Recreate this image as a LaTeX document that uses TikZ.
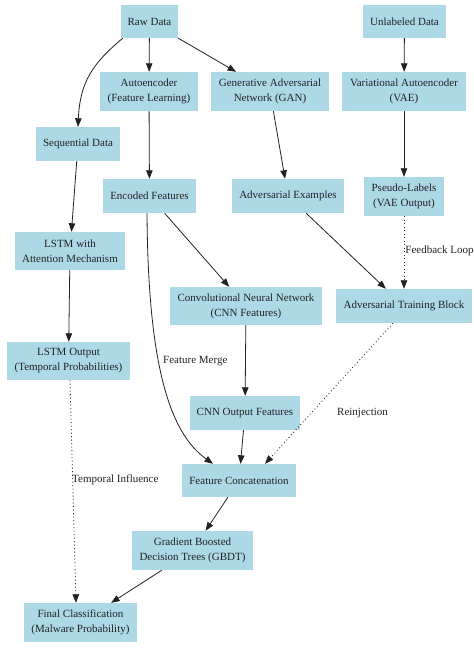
\documentclass[tikz,border=0pt]{standalone}
\usepackage{fontspec}
\setmainfont{Liberation Serif}
\usetikzlibrary{arrows.meta,calc}
\definecolor{boxblue}{HTML}{ADD8E6}
\definecolor{inkc}{HTML}{222222}
\begin{document}
\begin{tikzpicture}[x=1pt,y=1pt,
  box/.style={fill=boxblue,draw=none,inner sep=0pt,align=center,text=inkc,
    font=\fontsize{11}{15}\selectfont},
  conn/.style={draw=inkc,line width=0.8pt,-{Triangle[length=8.5pt,width=6.5pt]}},
  dotconn/.style={conn,dash pattern=on 0.9pt off 2.6pt},
  elabel/.style={text=inkc,font=\fontsize{11}{13}\selectfont,inner sep=0pt,anchor=west}]
\useasboundingbox (0,0) rectangle (474,-667);
\fill[white] (0,0) rectangle (474,-667);
% nodes
\node[box,minimum width=57pt,minimum height=33pt] (raw) at (149.5,-21.5) {Raw Data};
\node[box,minimum width=83pt,minimum height=33pt] (unl) at (404.5,-21.5) {Unlabeled Data};
\node[box,minimum width=98pt,minimum height=39pt] (ae) at (149,-91.5) {Autoencoder\\(Feature Learning)};
\node[box,minimum width=118pt,minimum height=39pt] (gan) at (270,-91.5) {Generative Adversarial\\Network (GAN)};
\node[box,minimum width=124pt,minimum height=39pt] (vae) at (404,-91.5) {Variational Autoencoder\\(VAE)};
\node[box,minimum width=84pt,minimum height=34pt] (seq) at (78,-144) {Sequential Data};
\node[box,minimum width=93pt,minimum height=34pt] (enc) at (149.5,-196) {Encoded Features};
\node[box,minimum width=112pt,minimum height=34pt] (adv) at (288,-196) {Adversarial Examples};
\node[box,minimum width=80pt,minimum height=39pt] (pseudo) at (404,-196.5) {Pseudo-Labels\\(VAE Output)};
\node[box,minimum width=110pt,minimum height=38pt] (lstm) at (70,-251) {LSTM with\\Attention Mechanism};
\node[box,minimum width=152pt,minimum height=38pt] (cnn) at (246,-306) {Convolutional Neural Network\\(CNN Features)};
\node[box,minimum width=136pt,minimum height=34pt] (atb) at (404,-306) {Adversarial Training Block};
\node[box,minimum width=123pt,minimum height=38pt] (lout) at (68.5,-361) {LSTM Output\\(Temporal Probabilities)};
\node[box,minimum width=110pt,minimum height=34pt] (cnno) at (245,-413) {CNN Output Features};
\node[box,minimum width=114pt,minimum height=33pt] (fc) at (239,-480.5) {Feature Concatenation};
\node[box,minimum width=121pt,minimum height=39pt] (gbdt) at (192.5,-550.5) {Gradient Boosted\\Decision Trees (GBDT)};
\node[box,minimum width=113pt,minimum height=39pt] (final) at (80.5,-622.5) {Final Classification\\(Malware Probability)};
% connectors
\draw[conn] ($(raw.south west)+(2,0)$) .. controls +(-30,-25) and +(2,45) .. (seq.north);
\draw[conn] (raw) -- (ae);
\draw[conn] (raw) -- (gan);
\draw[conn] (unl) -- (vae);
\draw[conn] (ae) -- (enc);
\draw[conn] (gan) -- (adv);
\draw[conn] (vae) -- (pseudo);
\draw[conn] (seq) -- (lstm);
\draw[conn] (enc) -- (cnn);
\draw[conn] (adv) -- (atb);
\draw[dotconn] (pseudo) -- (atb) node[elabel,pos=0.48,xshift=1pt] (lfb) {Feedback Loop};
\draw[conn] (lstm) -- (lout);
\draw[conn] (cnn) -- (cnno);
\draw[conn] ($(enc.south)+(-2.5,0)$) .. controls +(1,-147) and +(-45,32) .. ($(fc.north)+(-26,0)$);
\node[elabel] (lfm) at (163,-361) {Feature Merge};
\draw[dotconn] ($(atb.south)+(-11,0)$) -- ($(fc.north)+(26,0)$);
\node[elabel] (lre) at (337,-413) {Reinjection};
\draw[conn] (cnno) -- (fc);
\draw[dotconn] ($(lout.south)+(1.5,0)$) -- ($(final.north)+(-4.5,0)$);
\node[elabel] (lti) at (72,-480) {Temporal Influence};
\draw[conn] (fc) -- (gbdt);
\draw[conn] (gbdt) -- (final);
\end{tikzpicture}
\end{document}
